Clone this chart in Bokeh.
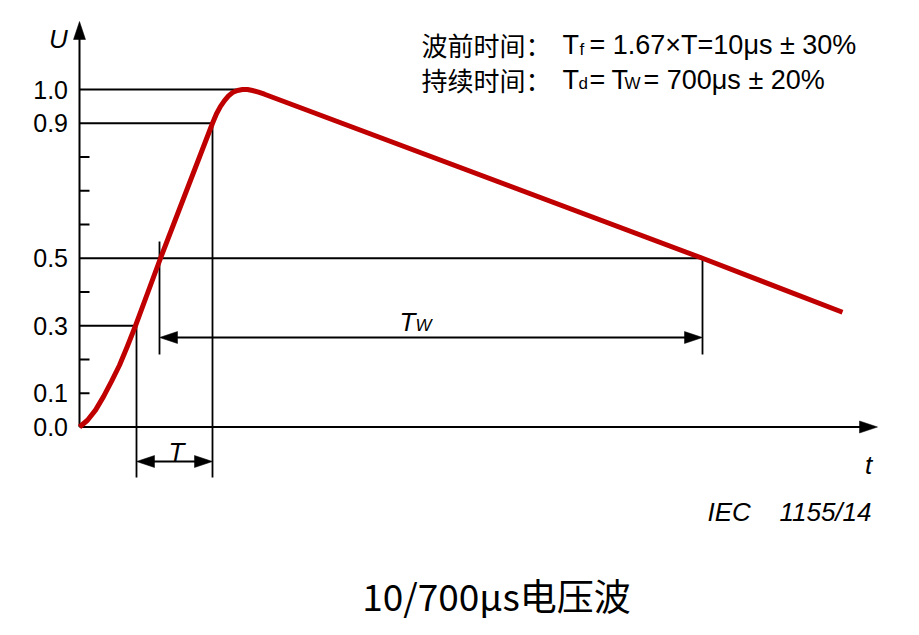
from bokeh.plotting import figure
from bokeh.models import Range1d
from bokeh.core.properties import value
from bokeh.embed import file_html
from bokeh.resources import INLINE

# ---------------- data ----------------
# waveform: time (arbitrary units) and normalised voltage U
wave_t = [0, 8, 16, 24, 32, 40, 48, 56, 68.5, 81, 94, 107, 120, 133, 137, 141, 145,
          149, 153, 158, 163, 168, 173, 179, 185, 623, 763]
wave_u = [0.0, 0.02, 0.05, 0.09, 0.135, 0.183, 0.24, 0.3, 0.4, 0.5, 0.6, 0.7, 0.8,
          0.9, 0.928, 0.95, 0.967, 0.981, 0.991, 0.997, 1.0, 1.0, 0.997, 0.992, 0.986,
          0.5, 0.34]

tick_labels = ["0.0", "0.1", "0.3", "0.5", "0.9", "1.0"]
label_levels = [0.0, 0.1, 0.3, 0.5, 0.9, 1.0]
minor_levels = [0.1, 0.2, 0.4, 0.6, 0.7, 0.8]

t_peak = 166          # time of crest (U = 1.0)
t_30 = 57             # 30 % crossing
t_90 = 133            # 90 % crossing
t_50_rise = 80        # 50 % crossing on the front
t_50_tail = 623       # 50 % crossing on the tail
t_axis_end = 798

# ---------------- layout helpers ----------------
OFF = 1                          # page offset of the canvas (measured)
W, H = 903, 628
XS = 1.0                         # data x per pixel
X0 = -(80 - OFF) * XS
US = 1.0 / 337.5                 # data u per pixel
UT = (427.5 - OFF) * US


def sx(px):  # page pixel -> data x
    return (px - OFF) * XS + X0


def sy(py):  # page pixel -> data u
    return UT - (py - OFF) * US


p = figure(width=W, height=H, output_backend="svg", toolbar_location=None,
           x_range=Range1d(X0, X0 + W * XS), y_range=Range1d(UT - H * US, UT),
           min_border=0, x_axis_location=None, y_axis_location=None,
           background_fill_color="white", border_fill_color="white")
p.outline_line_color = None
p.grid.visible = False

BLACK = "#000000"
LW = 1.8


def tri(tipx, tipy, direction, length=18, half=6):
    # triangle arrow head; sizes in pixels
    L = length
    if direction == "up":
        xs = [tipx, tipx - half * XS, tipx + half * XS]
        ys = [tipy, tipy - L * US, tipy - L * US]
    elif direction == "right":
        xs = [tipx, tipx - L * XS, tipx - L * XS]
        ys = [tipy, tipy + half * US, tipy - half * US]
    else:  # left
        xs = [tipx, tipx + L * XS, tipx + L * XS]
        ys = [tipy, tipy + half * US, tipy - half * US]
    return xs, ys


# ---------------- axes ----------------
u_top = sy(22)
p.line([0, 0], [0, u_top - 10 * US], line_color=BLACK, line_width=2)
p.line([0, t_axis_end - 10], [0, 0], line_color=BLACK, line_width=2)
heads_x, heads_y = [], []
for hx, hy in [tri(0, u_top, "up"), tri(t_axis_end, 0, "right")]:
    heads_x.append(hx)
    heads_y.append(hy)

# minor ticks
p.segment(x0=[0] * len(minor_levels), y0=minor_levels,
          x1=[10 * XS] * len(minor_levels), y1=minor_levels,
          line_color=BLACK, line_width=LW)

# tick labels
p.text(x=[sx(68.5)] * len(label_levels), y=label_levels, text=tick_labels,
       text_align="right", text_baseline="middle", text_font=value("Liberation Sans"),
       text_font_size="25px", text_color=BLACK)

# ---------------- reference lines ----------------
u_low = sy(478)
u_tw = sy(338)
u_t = sy(462)
seg_x0 = [0, 0, 0, 0, t_30, t_90, t_50_tail, t_50_rise]
seg_y0 = [1.0, 0.9, 0.5, 0.3, 0.3, 0.9, 0.5, sy(242)]
seg_x1 = [t_peak, t_90, t_50_tail, t_30, t_30, t_90, t_50_tail, t_50_rise]
seg_y1 = [1.0, 0.9, 0.5, 0.3, u_low, u_low, sy(355), sy(355)]
p.segment(x0=seg_x0, y0=seg_y0, x1=seg_x1, y1=seg_y1, line_color=BLACK, line_width=LW)

# Tw dimension arrow
p.line([t_50_rise + 5, t_50_tail - 5], [u_tw, u_tw], line_color=BLACK, line_width=LW)
for hx, hy in [tri(t_50_rise, u_tw, "left"), tri(t_50_tail, u_tw, "right")]:
    heads_x.append(hx)
    heads_y.append(hy)
# T dimension arrow
p.line([t_30 + 5, t_90 - 5], [u_t, u_t], line_color=BLACK, line_width=LW)
for hx, hy in [tri(t_30, u_t, "left"), tri(t_90, u_t, "right")]:
    heads_x.append(hx)
    heads_y.append(hy)
p.patches(heads_x, heads_y, fill_color=BLACK, line_color=BLACK, line_width=0.5)

# ---------------- waveform ----------------
p.line(wave_t, wave_u, line_color="#C00000", line_width=5, line_join="round")

# ---------------- texts ----------------
ARIAL = value("Liberation Sans")
CJK = value("Noto Sans CJK SC")


def txt(x, y, s, size, font=ARIAL, style="normal", align="left", baseline="alphabetic"):
    p.text(x=[x], y=[y], text=[s], text_font=font, text_font_size=size,
           text_font_style=style, text_align=align, text_baseline=baseline,
           text_color=BLACK)


txt(sx(59), sy(39), "U", "26px", style="italic", align="center")
txt(sx(869), sy(465), "t", "26px", style="italic", align="center")
txt(sx(177), sy(452), "T", "26px", style="italic", align="center")
txt(sx(400), sy(322), "T", "26px", style="italic")
txt(sx(416), sy(326), "W", "17px", style="italic")
txt(sx(708), sy(512), "IEC", "26px", style="italic")
txt(sx(872), sy(512), "1155/14", "26px", style="italic", align="right")

# header
txt(sx(422), sy(45), "波前时间：", "26px", font=CJK)
txt(sx(563), sy(45), "T", "27px")
txt(sx(580), sy(50), "f", "17px")
txt(sx(590), sy(45), "= 1.67×T=10μs ± 30%", "27px")
txt(sx(422), sy(80), "持续时间：", "26px", font=CJK)
txt(sx(563), sy(80), "T", "27px")
txt(sx(579), sy(84), "d", "17px")
txt(sx(590), sy(80), "=", "27px")
txt(sx(612), sy(80), "T", "27px")
txt(sx(625), sy(84), "W", "17px")
txt(sx(644), sy(80), "= 700μs ± 20%", "27px")

# title
txt(sx(497), sy(595), "10/700μs电压波", "37px", font=CJK, align="center", baseline="middle")

open("out.html", "w").write(file_html(p, INLINE))
